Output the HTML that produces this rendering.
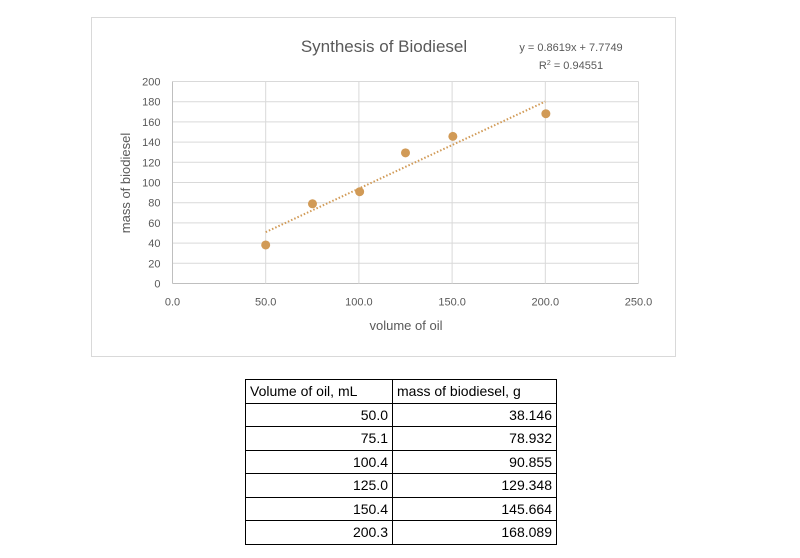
<!DOCTYPE html>
<html><head><meta charset="utf-8"><style>
body{margin:0;background:#fff;width:800px;height:558px;overflow:hidden;font-family:"Liberation Sans",sans-serif}
#chartbox{position:absolute;left:91px;top:17px;width:583px;height:338px;border:1px solid #d9d9d9}
table{position:absolute;left:245px;top:379px;border-collapse:collapse;font-size:14px;color:#000}
td{border:1px solid #000;height:23.5px;padding:0 4px;box-sizing:border-box}
td.c1{width:147px}td.c2{width:164px}
.r{text-align:right}
</style></head><body>
<div id="chartbox"></div>
<svg id="chart" width="800" height="558" style="position:absolute;left:0;top:0"></svg>
<table>
<tr><td class="c1">Volume of oil, mL</td><td class="c2">mass of biodiesel, g</td></tr>
<tr><td class="r">50.0</td><td class="r">38.146</td></tr>
<tr><td class="r">75.1</td><td class="r">78.932</td></tr>
<tr><td class="r">100.4</td><td class="r">90.855</td></tr>
<tr><td class="r">125.0</td><td class="r">129.348</td></tr>
<tr><td class="r">150.4</td><td class="r">145.664</td></tr>
<tr><td class="r">200.3</td><td class="r">168.089</td></tr>
</table>
<script>
const xValues=[50.0,75.1,100.4,125.0,150.4,200.3];
const yValues=[38.146,78.932,90.855,129.348,145.664,168.089];
const xTicks=[0,50,100,150,200,250];
const yTicks=[0,20,40,60,80,100,120,140,160,180,200];
const trendSlope=0.8619, trendIntercept=7.7749;
const NS="http://www.w3.org/2000/svg";
const svg=document.getElementById('chart');
const X0=172.5,X1=638.5,Y0=283.5,Y1=81.5;
const sx=v=>X0+(v-0)/(250-0)*(X1-X0);
const sy=v=>Y0-(v-0)/(200-0)*(Y0-Y1);
function mk(t,a){const e=document.createElementNS(NS,t);for(const k in a)e.setAttribute(k,a[k]);svg.appendChild(e);return e;}
yTicks.forEach(v=>{
 const l=mk('line',{x1:X0,x2:X1,y1:sy(v),y2:sy(v),stroke:v===0?'#bfbfbf':'#d9d9d9','stroke-width':1});
 
 
 const t=mk('text',{x:X0-12,y:sy(v)+4,'text-anchor':'end','font-size':11,fill:'#595959','font-family':'Liberation Sans, sans-serif'});
 t.textContent=v;
 
 
});
xTicks.forEach(v=>{
 const l=mk('line',{x1:sx(v),x2:sx(v),y1:Y1,y2:Y0,stroke:v===0?'#bfbfbf':'#d9d9d9','stroke-width':1});
 
 
 const t=mk('text',{x:sx(v),y:Y0+22,'text-anchor':'middle','font-size':11,fill:'#595959','font-family':'Liberation Sans, sans-serif'});
 t.textContent=v.toFixed(1);
 
 
});
const tl=mk('line',{x1:sx(50),y1:sy(trendSlope*50+trendIntercept),x2:sx(200),y2:sy(trendSlope*200+trendIntercept),stroke:'#d19a56','stroke-width':2,'stroke-dasharray':'1.5 2'});


xValues.forEach((v,i)=>{
 const c=mk('circle',{cx:sx(v),cy:sy(yValues[i]),r:4.5,fill:'#d19a56'});
 
 
});
function txt(s,a,name){const t=mk('text',Object.assign({'font-family':'Liberation Sans, sans-serif',fill:'#595959'},a));t.textContent=s;return t;}
txt('Synthesis of Biodiesel',{x:384,y:52,'text-anchor':'middle','font-size':17},'chart-title');
txt('y = 0.8619x + 7.7749',{x:571,y:51,'text-anchor':'middle','font-size':11},'trendline-equation');
const r=txt('R',{x:571,y:69,'text-anchor':'middle','font-size':11},'r-squared');
r.innerHTML='R<tspan font-size="7" dy="-4">2</tspan><tspan dy="4"> = 0.94551</tspan>';
txt('volume of oil',{x:406,y:330,'text-anchor':'middle','font-size':13},'x-axis-title');
txt('mass of biodiesel',{x:0,y:0,'text-anchor':'middle','font-size':13,transform:'translate(130,183) rotate(-90)'},'y-axis-title');
</script>
</body></html>
